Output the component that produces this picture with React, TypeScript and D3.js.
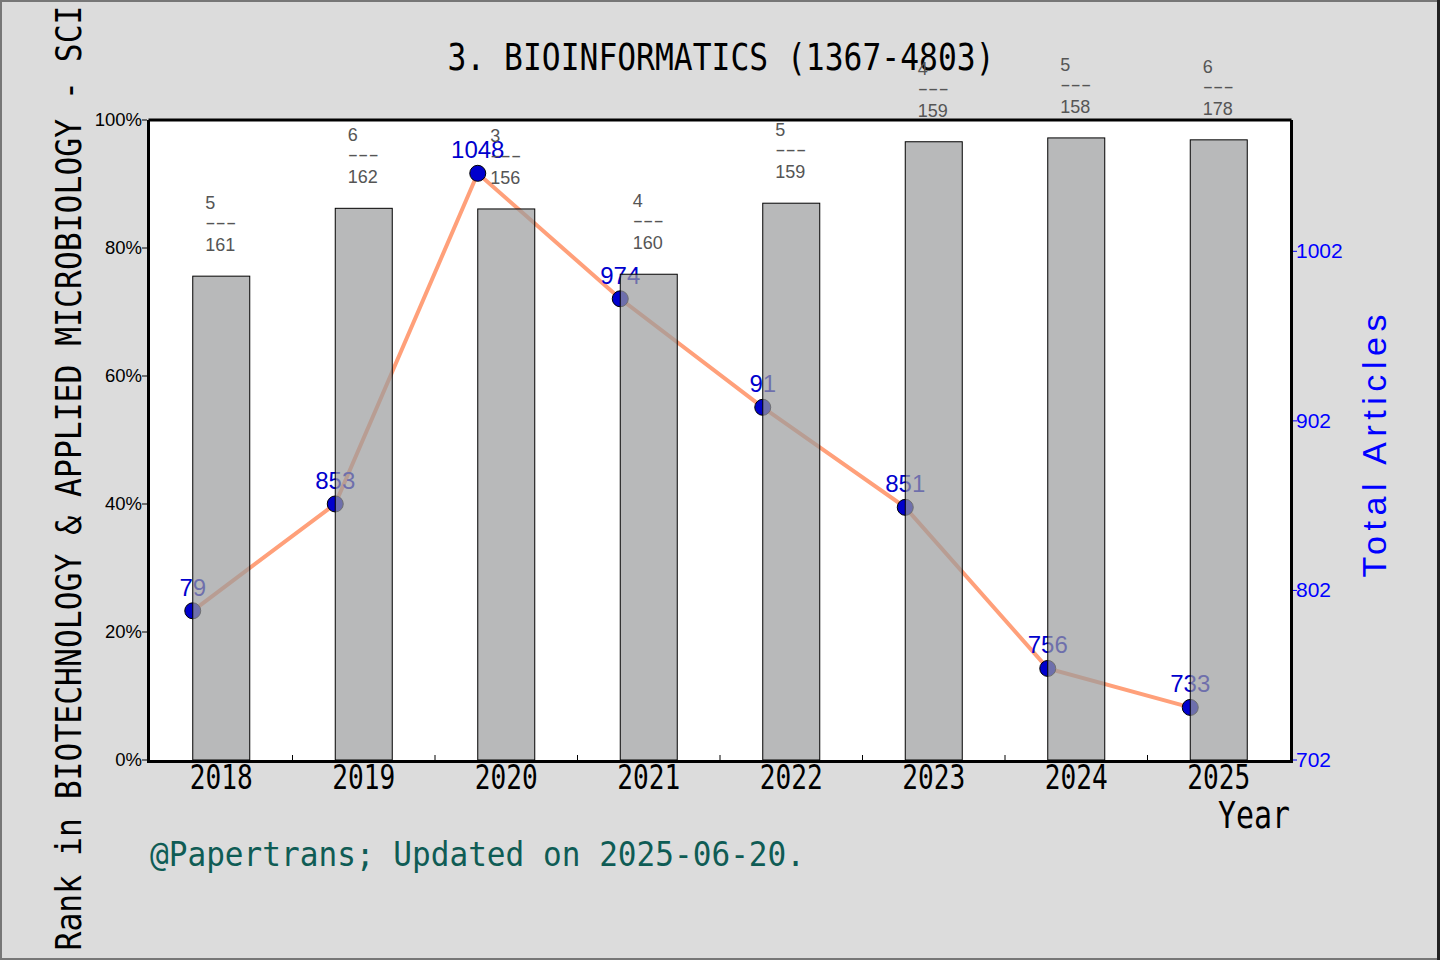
import React from 'react';
import * as d3 from 'd3';

const years = ['2018', '2019', '2020', '2021', '2022', '2023', '2024', '2025'];
const rankPct = [75.6, 86.2, 86.1, 75.9, 87.0, 96.6, 97.2, 96.9];
const ranks = [5, 6, 3, 4, 5, 4, 5, 6];
const categoryTotals = [161, 162, 156, 160, 159, 159, 158, 178];
const articles = [790, 853, 1048, 974, 910, 851, 756, 733];
const articleLabels = ['79', '853', '1048', '974', '91', '851', '756', '733'];
const pctTicks = [0, 20, 40, 60, 80, 100];
const articleTicks = [702, 802, 902, 1002];

const W = 1440;
const H = 960;
const margin = { top: 120, right: 150, bottom: 200, left: 150 };
const mono = '"DejaVu Sans Mono", monospace';
const sans = '"Liberation Sans", Arial, sans-serif';

const App = () => {
  const x0 = margin.left;
  const x1 = W - margin.right;
  const y0 = H - margin.bottom;
  const y1 = margin.top;

  const x = d3.scaleBand().domain(years).range([x0, x1]).paddingInner(0).paddingOuter(0);
  const step = x.step();
  const barW = step * 0.4;
  const yL = d3.scaleLinear().domain([0, 100]).range([y0, y1]);
  const yR = d3.scaleLinear().domain([702, 1048 * 1.03]).range([y0, y1]);

  const barLeft = (d: string) => (x(d) as number) + step * 0.3;
  const center = (d: string) => (x(d) as number) + step / 2;

  const line = d3
    .line<number>()
    .x((_, i) => barLeft(years[i]))
    .y((v) => yR(v));

  return (
    <svg
      width={W}
      height={H}
      style={{ position: 'absolute', left: 0, top: 0, display: 'block' }}
    >
      <rect x={0} y={0} width={W} height={H} fill="#dcdcdc" />
      <rect x={1} y={1} width={W - 2} height={H - 2} fill="none" stroke="#777" strokeWidth={2} />
      <line x1={W - 1.5} x2={W - 1.5} y1={0} y2={H} stroke="#222" strokeWidth={3} />

      <text
        x={721}
        y={70}
        textAnchor="middle"
        fontFamily={mono}
        fontSize={38}
        textLength={547}
        lengthAdjust="spacingAndGlyphs"
        fill="#000"
      >
        3. BIOINFORMATICS (1367-4803)
      </text>

      <rect x={x0} y={y1} width={x1 - x0} height={y0 - y1} fill="#fff" />

      {/* line + points + values */}
      <path d={line(articles) || ''} fill="none" stroke="#ffa07a" strokeWidth={4} />
      {articles.map((v, i) => (
        <circle key={i} cx={barLeft(years[i])} cy={yR(v)} r={8} fill="#0000cd" stroke="#000" strokeWidth={1} />
      ))}
      {articles.map((v, i) => (
        <text
          key={i}
          x={barLeft(years[i])}
          y={yR(v) - 15}
          textAnchor="middle"
          fontFamily={sans}
          fontSize={24}
          fill="#0000cd"
        >
          {articleLabels[i]}
        </text>
      ))}

      {/* bars over the line */}
      {rankPct.map((v, i) => (
        <rect
          key={i}
          x={barLeft(years[i])}
          y={yL(v)}
          width={barW}
          height={y0 - yL(v)}
          fill="#9b9c9e"
          fillOpacity={0.71}
          stroke="#000"
          strokeWidth={1}
        />
      ))}

      {rankPct.map((v, i) => {
        const top = yL(v);
        const lx = center(years[i]) - 16;
        return (
          <g key={i} fontFamily={sans} fontSize={18} fill="#555">
            <text x={lx} y={top - 67}>{ranks[i]}</text>
            <text x={lx} y={top - 47} textLength={31} lengthAdjust="spacingAndGlyphs">
              ---
            </text>
            <text x={lx} y={top - 25}>{categoryTotals[i]}</text>
          </g>
        );
      })}

      {/* frame */}
      <line x1={x0 - 1.5} x2={x1 + 1.5} y1={y1} y2={y1} stroke="#000" strokeWidth={3} />
      <line x1={x0 - 1.5} x2={x1 + 1.5} y1={y0 + 1.5} y2={y0 + 1.5} stroke="#000" strokeWidth={3} />
      <line x1={x0 - 1.5} x2={x0 - 1.5} y1={y1} y2={y0 + 3} stroke="#000" strokeWidth={3} />
      <line x1={x1 + 1.5} x2={x1 + 1.5} y1={y1} y2={y0 + 3} stroke="#000" strokeWidth={3} />

      {/* left axis */}
      {pctTicks.map((t) => (
        <g key={t}>
          <line x1={x0 - 8} x2={x0 - 3} y1={yL(t)} y2={yL(t)} stroke="#000" strokeWidth={1} />
          <text x={x0 - 8} y={yL(t) + 6} textAnchor="end" fontFamily={sans} fontSize={18.5} fill="#000">
            {t}%
          </text>
        </g>
      ))}

      {/* right axis */}
      {articleTicks.map((t) => (
        <g key={t}>
          <line x1={x1 + 3} x2={x1 + 7} y1={yR(t)} y2={yR(t)} stroke="#0000ff" strokeWidth={1} />
          <text x={x1 + 6} y={yR(t) + 7} fontFamily={sans} fontSize={21} fill="#0000ff">
            {t}
          </text>
        </g>
      ))}

      {/* bottom axis */}
      {years.slice(1).map((d) => (
        <line key={d} x1={x(d)} x2={x(d)} y1={y0} y2={y0 - 5} stroke="#000" strokeWidth={1} />
      ))}
      {years.map((d) => (
        <text
          key={d}
          x={center(d)}
          y={789}
          textAnchor="middle"
          fontFamily={mono}
          fontSize={33}
          textLength={63}
          lengthAdjust="spacingAndGlyphs"
          fill="#000"
        >
          {d}
        </text>
      ))}

      <text
        x={x1}
        y={828}
        textAnchor="end"
        fontFamily={mono}
        fontSize={37}
        textLength={72}
        lengthAdjust="spacingAndGlyphs"
        fill="#000"
      >
        Year
      </text>

      <text
        transform={`translate(81, 478) rotate(-90)`}
        textAnchor="middle"
        fontFamily={mono}
        fontSize={36}
        textLength={945}
        lengthAdjust="spacingAndGlyphs"
        fill="#000"
      >
        Rank in BIOTECHNOLOGY &amp; APPLIED MICROBIOLOGY - SCI
      </text>

      <text
        transform={`translate(1386, 446) rotate(-90)`}
        textAnchor="middle"
        fontFamily={sans}
        fontSize={34}
        textLength={263}
        lengthAdjust="spacing"
        fill="#0000ff"
      >
        Total Articles
      </text>

      <text
        x={150}
        y={866}
        fontFamily={mono}
        fontSize={33}
        textLength={655}
        lengthAdjust="spacingAndGlyphs"
        fill="#0f5c55"
      >
        @Papertrans; Updated on 2025-06-20.
      </text>
    </svg>
  );
};

export default App;
